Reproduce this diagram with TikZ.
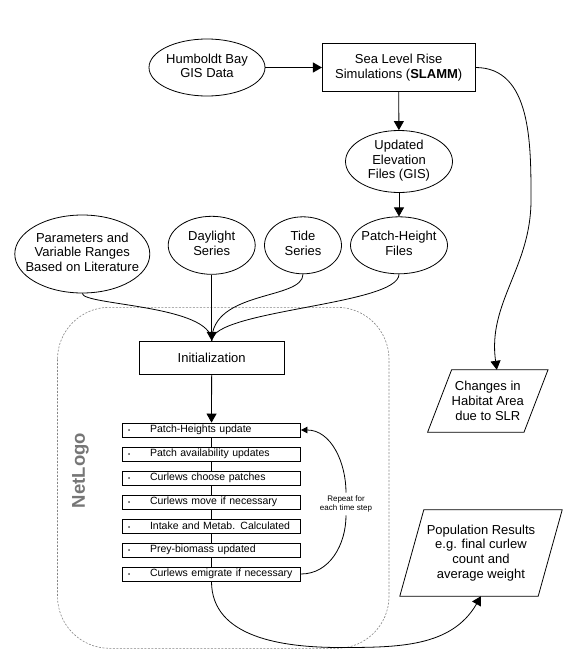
\documentclass[tikz,border=0pt]{standalone}
\usepackage{fontspec}
\setmainfont{Liberation Sans}
\usetikzlibrary{shapes.geometric,arrows.meta,calc}
\definecolor{netGray}{HTML}{767676}
\newcommand{\ellipsetext}[1]{\makebox[0pt]{\begin{tabular}{@{}c@{}}#1\end{tabular}}}
\newcommand{\stepbullet}{\makebox[24.5pt][l]{\hspace{2.5pt}{\fontsize{6}{6}\selectfont\textbullet}}}

\begin{document}
\begin{tikzpicture}
[x=1pt,y=1pt,
  lineDecorate/.style={-{Triangle[length=9pt,width=10pt]},line width=0.8pt},%
  smallDecorate/.style={-{Triangle[length=6.5pt,width=6.5pt]},line width=0.8pt},%
  plainDecorate/.style={-,line width=0.8pt},%
  frameDecorate/.style={draw=netGray!90,line width=0.6pt,dash pattern=on 2pt off 1.5pt,rounded corners=52pt},%
  ellipseDecorate/.style={shape=ellipse,draw,line width=0.8pt,inner sep=0pt,font=\fontsize{13}{14.5}\selectfont},%
  boxDecorate/.style={shape=rectangle,draw,line width=0.8pt,align=center,font=\fontsize{13}{14.5}\selectfont},%
  stepDecorate/.style={shape=rectangle,draw,line width=0.8pt,minimum height=14pt,inner xsep=3pt,inner ysep=0pt,text width=172pt,align=left,font=\fontsize{10.5}{12}\selectfont},%
  outputDecorate/.style={shape=rectangle,inner sep=0pt,align=center,font=\fontsize{13}{14.8}\selectfont}]
\useasboundingbox (0,0) rectangle (576,-672);
%% NetLogo frame
\draw[frameDecorate] (57.5,-307.3) rectangle (389,-648.3);
\node (netlogo) at (80.5,-470.5) [rotate=90,text=netGray,font=\bfseries\fontsize{18.5}{20}\selectfont] {NetLogo};
%% input ellipses
\foreach \nodename/\x/\y/\w/\h/\txt in {
  humboldt/207/67.5/116/57/{Humboldt Bay\\GIS Data},
  elevation/399/161.5/107/62/{Updated\\Elevation\\Files (GIS)},
  patchfiles/399/245.3/97/57/{Patch-Height\\Files},
  tide/303/245.3/77/57/{Tide\\Series},
  daylight/211.7/245.3/87/58/{Daylight\\Series},
  params/82.3/254/135/78/{Parameters and\\Variable Ranges\\Based on Literature}}
{
  \node (\nodename) at (\x,-\y) [ellipseDecorate,minimum width=\w,minimum height=\h] {\ellipsetext{\txt}};
}
%% boxes
\node (slamm) at (398.7,-67.5) [boxDecorate,minimum width=152.7,minimum height=48.4] {Sea Level Rise\\Simulations (\textbf{SLAMM})};
\node (init) at (211.7,-357.7) [boxDecorate,minimum width=145,minimum height=33] {Initialization};
%% time step
\foreach \nodename/\y/\txt in {
  s1/430/Patch-Heights update, s2/454/Patch availability updates,
  s3/478/Curlews choose patches, s4/502/Curlews move if necessary,
  s5/526/Intake and Metab. Calculated, s6/550/Prey-biomass updated,
  s7/574/Curlews emigrate if necessary}
{
  \node (\nodename) at (211.5,-\y) [stepDecorate] {\stepbullet\txt};
}
\node (repeatnote) at (346,-504) [align=center,inner sep=3pt,font=\fontsize{8}{9}\selectfont] {Repeat for\\each time step};
%% outputs
\node (changes) at (487.8,-401) [outputDecorate,minimum width=96,minimum height=62] {Changes in\\Habitat Area\\due to SLR};
\node (population) at (481,-553) [outputDecorate,minimum width=138,minimum height=86] {Population Results\\e.g. final curlew\\count and\\average weight};
\foreach \nodename in {changes, population}
{
  \draw[plainDecorate] ($(\nodename.north west)+(12,0)$) -- ($(\nodename.north east)+(12,0)$)
    -- ($(\nodename.south east)+(-12,0)$) -- ($(\nodename.south west)+(-12,0)$) -- cycle;
}
\coordinate (slrbend) at (531,-200);
\coordinate (resultlow) at (340,-647.5);
%% edges or lines
\draw[lineDecorate] (humboldt) -- (slamm);
\draw[lineDecorate] (slamm) -- (elevation);
\draw[lineDecorate] (elevation) -- (patchfiles);
\draw[lineDecorate] (slamm.east) to[out=0,in=90] (slrbend) to[out=-90,in=98] ([xshift=9pt]changes.north);
\draw[plainDecorate] (params.south) .. controls +(0,-12) and +(0,36) .. (init.north);
\draw[plainDecorate] (tide.south) .. controls +(0,-26) and +(0,51) .. (init.north);
\draw[plainDecorate] (patchfiles.south) .. controls +(0,-31) and +(0,31) .. (init.north);
\draw[lineDecorate] (daylight.south) -- (init.north);
\draw[lineDecorate] (init) -- (s1);
\path
\foreach \startnode/\endnode in {s1/s2, s2/s3, s3/s4, s4/s5, s5/s6, s6/s7}
{
  (\startnode) edge[plainDecorate] (\endnode)
};
\draw[plainDecorate] (s7.east) to[out=0,in=-90] (repeatnote.south);
\draw[smallDecorate] (repeatnote.north) to[out=90,in=0] (s1.east);
\draw[lineDecorate] (s7.south) to[out=-90,in=180] (resultlow) to[out=0,in=-120] (population.south);
\end{tikzpicture}
\end{document}
